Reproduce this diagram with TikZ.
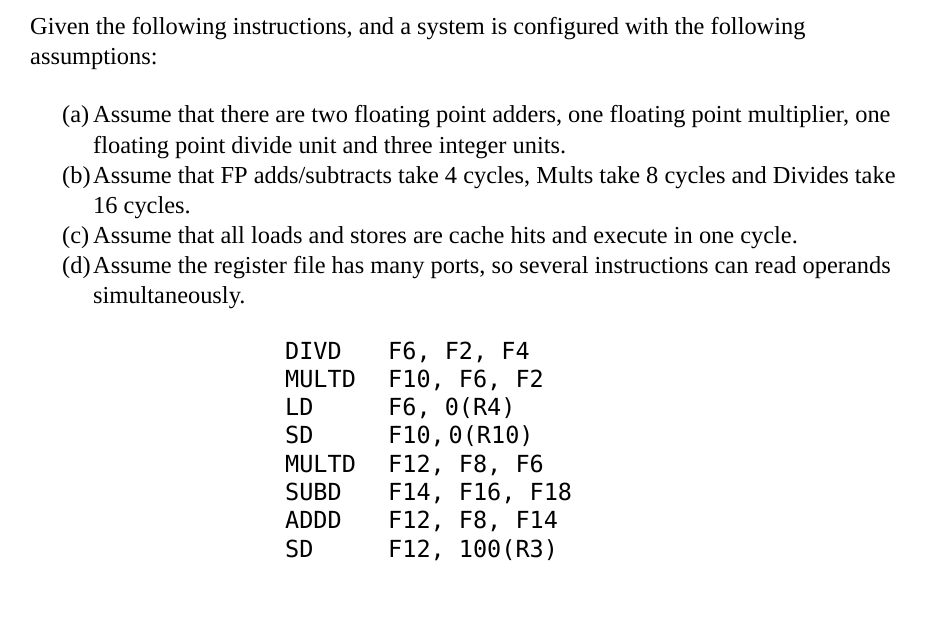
\documentclass[tikz,border=0pt]{standalone}
\usepackage{fontspec}
\setmainfont{Liberation Serif}
\setmonofont{DejaVu Sans Mono}
\begin{document}
\begin{tikzpicture}[x=1pt,y=-1pt,
  txt/.style={anchor=base west,inner sep=0pt,font=\fontsize{24.4}{28}\selectfont},
  code/.style={anchor=base west,inner sep=0pt,font=\ttfamily\fontsize{23.5}{28}\selectfont}]
\useasboundingbox (0,0) rectangle (952,623);
\fill[white] (0,0) rectangle (952,623);
\node[txt] (l1) at (30,35) {Given the following instructions, and a system is configured with the following};
\node[txt] (l2) at (30,65) {assumptions:};
\node[txt] (la) at (62,123) {(a)};
\node[txt] (a1) at (93,123) {Assume that there are two floating point adders, one floating point multiplier, one};
\node[txt] (a2) at (93,153) {floating point divide unit and three integer units.};
\node[txt] (lb) at (62,183) {(b)};
\node[txt] (b1) at (93,183) {Assume that FP adds/subtracts take 4 cycles, Mults take 8 cycles and Divides take};
\node[txt] (b2) at (93,213) {16 cycles.};
\node[txt] (lc) at (62,243) {(c)};
\node[txt] (c1) at (93,243) {Assume that all loads and stores are cache hits and execute in one cycle.};
\node[txt] (ld) at (62,273) {(d)};
\node[txt] (d1) at (93,273) {Assume the register file has many ports, so several instructions can read operands};
\node[txt] (d2) at (93,303) {simultaneously.};
\foreach \op/\args [count=\i] in {DIVD/{F6, F2, F4},MULTD/{F10, F6, F2},LD/{F6, 0(R4)},SD/{F10,\,0(R10)},MULTD/{F12, F8, F6},SUBD/{F14, F16, F18},ADDD/{F12, F8, F14},SD/{F12, 100(R3)}}{
  \node[code] (op\i) at (285,{359+28.3*(\i-1)}) {\op};
  \node[code] (ar\i) at (388,{359+28.3*(\i-1)}) {\args};
}
\end{tikzpicture}
\end{document}
